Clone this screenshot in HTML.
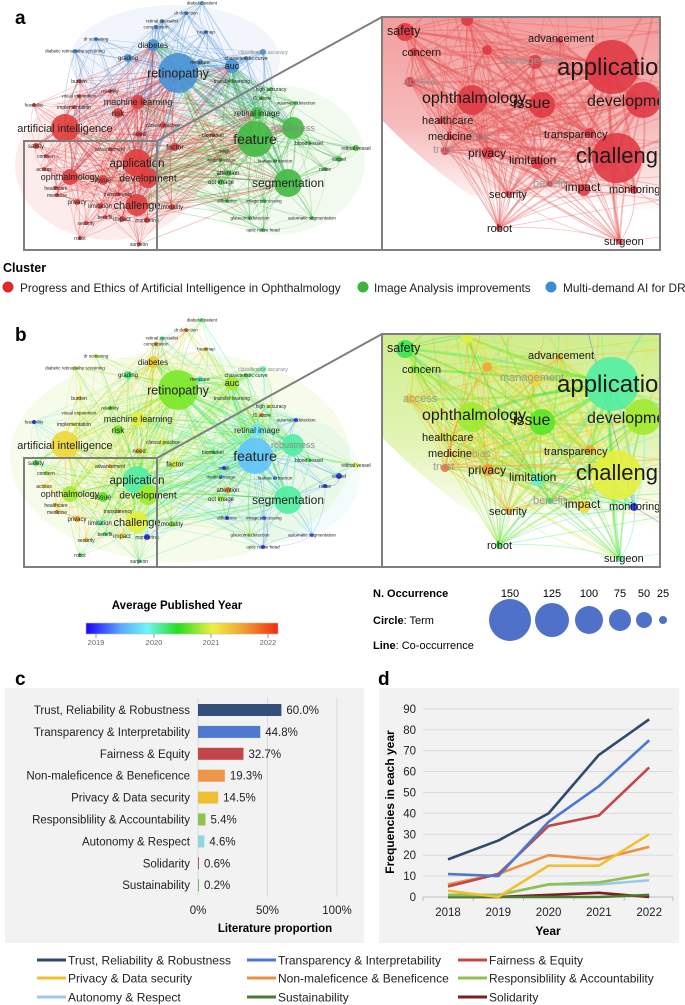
<!DOCTYPE html>
<html><head><meta charset="utf-8">
<style>
html,body{margin:0;padding:0;background:#fff;}
svg{display:block;font-family:"Liberation Sans",Arial,sans-serif;}
</style></head>
<body>
<svg id="fig" width="685" height="1005" viewBox="0 0 685 1005" xmlns="http://www.w3.org/2000/svg">
<defs>
  <clipPath id="clipA"><rect x="382" y="17" width="278" height="233"/></clipPath>
  <clipPath id="clipB"><rect x="382" y="334" width="278" height="233"/></clipPath>
  <linearGradient id="yearGrad" x1="0" x2="1" y1="0" y2="0">
    <stop offset="0" stop-color="#1a00ff"/>
    <stop offset="0.18" stop-color="#5aa8ff"/>
    <stop offset="0.32" stop-color="#6ff6f6"/>
    <stop offset="0.48" stop-color="#22e01a"/>
    <stop offset="0.66" stop-color="#f0f040"/>
    <stop offset="0.82" stop-color="#f0a030"/>
    <stop offset="1" stop-color="#f42a10"/>
  </linearGradient>
  <linearGradient id="bgA" x1="0" x2="0" y1="0" y2="1">
    <stop offset="0" stop-color="#f08c8c"/>
    <stop offset="0.55" stop-color="#f5b0b0"/>
    <stop offset="1" stop-color="#ffffff"/>
  </linearGradient>
  <linearGradient id="bgB" x1="0" x2="0" y1="0" y2="1">
    <stop offset="0" stop-color="#c6ea7a"/>
    <stop offset="0.55" stop-color="#def2a8"/>
    <stop offset="1" stop-color="#ffffff"/>
  </linearGradient>
</defs>
<text x="15" y="24" font-size="19" font-weight="bold">a</text>
<text x="15" y="341" font-size="19" font-weight="bold">b</text>
<text x="15" y="685" font-size="19" font-weight="bold">c</text>
<text x="378" y="685" font-size="19" font-weight="bold">d</text>

<g id="netA"></g>
<g id="netB"></g>

<g>
  <text x="3" y="272" font-size="12.5" font-weight="bold">Cluster</text>
  <circle cx="8" cy="287" r="5.5" fill="#e02a2a"/>
  <text x="20" y="292" font-size="11.8" fill="#222">Progress and Ethics of Artificial Intelligence in Ophthalmology</text>
  <circle cx="363" cy="287" r="5.5" fill="#3cb43c"/>
  <text x="374" y="292" font-size="11.8" fill="#222">Image Analysis improvements</text>
  <circle cx="551" cy="287" r="5.5" fill="#3c8cd2"/>
  <text x="563" y="292" font-size="11.8" fill="#222">Multi-demand AI for DR</text>
</g>

<g>
  <text x="177" y="609" font-size="11.5" font-weight="bold" text-anchor="middle">Average Published Year</text>
  <rect x="86" y="623" width="192" height="11" fill="url(#yearGrad)" stroke="#bbb" stroke-width="0.6"/>
  <g font-size="7.5" fill="#666" text-anchor="middle">
    <line x1="96" y1="634" x2="96" y2="638" stroke="#999"/><text x="96" y="645">2019</text>
    <line x1="154" y1="634" x2="154" y2="638" stroke="#999"/><text x="154" y="645">2020</text>
    <line x1="211" y1="634" x2="211" y2="638" stroke="#999"/><text x="211" y="645">2021</text>
    <line x1="268" y1="634" x2="268" y2="638" stroke="#999"/><text x="268" y="645">2022</text>
  </g>
</g>

<g>
  <text x="373" y="597" font-size="11" font-weight="bold">N. Occurrence</text>
  <text x="373" y="624" font-size="11"><tspan font-weight="bold">Circle</tspan>: Term</text>
  <text x="373" y="649" font-size="11"><tspan font-weight="bold">Line</tspan>:  Co-occurrence</text>
  <g id="sizeCircles"></g>
</g>

<rect x="5" y="688" width="359" height="255" fill="#f2f2f2"/>
<g id="chartC"></g>

<rect x="379" y="688" width="300" height="255" fill="#f2f2f2"/>
<g id="chartD"></g>

<g id="legendD"></g>
</svg>

<script>
// ---------- Panel c data ----------
const barCategories = ["Trust, Reliability & Robustness","Transparency & Interpretability","Fairness & Equity","Non-maleficence & Beneficence","Privacy & Data security","Responsiblility & Accountability","Autonomy & Respect","Solidarity","Sustainability"];
const barValues = [60.0, 44.8, 32.7, 19.3, 14.5, 5.4, 4.6, 0.6, 0.2];
const barColors = ["#34507a","#4f79cf","#c0464a","#ee9547","#edc033","#8fc150","#8fd6df","#a05f6a","#7bb070"];
const barTicks = ["0%","50%","100%"];
const barTickValues = [0, 50, 100];

// ---------- Panel d data ----------
const years = [2018, 2019, 2020, 2021, 2022];
const yTicks = [0,10,20,30,40,50,60,70,80,90];
const seriesNames = ["Trust, Reliability & Robustness","Transparency & Interpretability","Fairness & Equity","Privacy & Data security","Non-maleficence & Beneficence","Responsiblility & Accountability","Autonomy & Respect","Sustainability","Solidarity"];
const seriesColors = ["#2f4a6e","#4a78d0","#c04848","#f0c030","#ee9040","#90c050","#9dc8ea","#4a7a30","#7a2020"];
const trustVals = [18, 27, 40, 68, 85];
const transpVals = [11, 10, 36, 53, 75];
const fairVals = [5, 11, 34, 39, 62];
const privacyVals = [3, 0, 15, 15, 30];
const nonMalVals = [6, 11, 20, 18, 24];
const respVals = [1, 1, 6, 7, 11];
const autoVals = [1, 1, 6, 6, 8];
const sustVals = [0, 0, 0, 0, 1];
const solVals = [0, 0, 1, 2, 0];
const seriesValues = [trustVals, transpVals, fairVals, privacyVals, nonMalVals, respVals, autoVals, sustVals, solVals];

// ---------- Size legend data ----------
const sizeLabels = ["150","125","100","75","50","25"];
const sizeRadii = [21, 17, 14, 11, 8, 4];

// ---------- Network nodes: [label, x, y, r, cluster, fontSize, year] ----------
const leftNodes = [
["retinopathy",178,73,20,2,12.5,2020.7],["diabetes",153,45,6,2,8,2021.3],["auc",232,66,7,2,9,2020.8],
["grading",128,58,4,2,6,2020.2],["diabetic patient",202,3,2,2,4.5,2020.3],["dr detection",186,13,2,2,4.5,2021.8],
["retinal specialist",162,21,2,2,4.5,2020],["complication",156,27,2,2,4.5,2021.8],["heatmap",206,32,2,2,4.5,2021.5],
["dr screening",96,39,2,2,4.5,2020.8],["diabetic retinopathy screening",75,51,2,2,4.5,2020.8],["classification accuracy",263,52,3,2,5,2020],
["characteristic curve",246,58,2,2,5,2020.5],["measure",200,62,3,2,5,2020],["transfer learning",232,81,2,1,5,2020.8],
["high accuracy",271,89,2,1,5,2021],["f1 score",262,98,2,1,5,2021.8],["automatic detection",296,103,2,1,4.5,2019],
["retinal image",257,113,6,1,8,2019.8],["robustness",293,128,11,1,9,2020.1],["feature",255,139,18,1,14,2019.6],
["blood vessel",309,143,2,1,5,2020.5],["retinal vessel",356,148,3,1,5,2021],["vessel",339,159,3,1,5,2019],
["noise",325,169,2,1,5,2019],["segmentation",288,183,14,1,12,2020.1],["biomarker",213,135,2,0,5,2020.4],
["factor",175,147,4,0,7,2021],["result",224,151,2,1,4.5,2019],["medical image",221,160,2,1,4.5,2019.3],
["feature extraction",275,161,2,1,4.5,2019.3],["attention",228,173,3,1,6,2021.8],["oct image",221,182,3,1,6,2020.8],
["difference",227,201,2,1,4.5,2019],["image processing",264,201,2,1,4.5,2019.2],["glaucoma detection",250,218,2,1,4.5,2020.8],
["automatic segmentation",312,218,2,1,4.5,2019.2],["optic nerve head",263,230,2,1,4.5,2019],["modality",172,207,3,0,6,2020.7],
["burden",79,81,2,0,5,2021.3],["reliability",110,91,2,0,4.5,2020.5],["visual impairment",79,96,2,0,4.5,2021],
["feasibility",34,105,2,0,4.5,2019],["implementation",74,107,2,0,5,2021],["machine learning",138,102,7,0,9,2021],
["risk",118,113,5,0,8,2020.7],["clinical practice",163,125,3,0,5,2021],["need",139,134,3,0,6,2021.5],
["artificial intelligence",65,128,14,0,11,2021.2],["application",137,163,14,0,11.5,2020.1],["development",148,178,10,0,10,2020.8],
["ophthalmology",70,177,8,0,9,2020.8],["issue",103,180,5,0,7,2020.6],["challenge",137,205,11,0,11,2021],
["safety",36,146,3,0,6,2020.3],["concern",46,156,2,0,5,2020.7],["advancement",110,149,2,0,5,2021.5],
["access",44,169,2,0,5,2021.3],["healthcare",56,188,2,0,5,2021.3],["medicine",57,195,2,0,5,2021.6],
["transparency",118,194,2,0,5,2021.5],["privacy",77,202,3,0,6,2021.6],["limitation",100,206,3,0,6,2020],
["benefit",105,217,2,0,5,2020.3],["impact",122,219,3,0,6,2021.2],["monitoring",147,220,3,0,5,2019],
["security",86,223,2,0,5,2021.6],["robot",80,238,2,0,5,2020.3],["surgeon",139,244,2,0,5,2020.2]
];
const zoomNodes = [
["safety",405,32,9,387,35,12.5,2020.3,0],["concern",414,52,4,402,56,11,2020.7,0],["advancement",560,40,3,528,42,11,2021.5,0],
["management",535,62,7,500,64,11,2021.2,1],["application",612,67,27,557,75,24,2020.1,0],["access",410,82,5,403,85,11,2021.3,1],
["ophthalmology",472,100,15,422,103,16,2020.8,0],["issue",542,105,13,513,108,16,2020.6,0],["development",643,100,18,587,106,16,2020.8,0],
["healthcare",440,121,3,422,124,11,2021.3,0],["medicine",450,137,3,428,140,11,2021.6,0],["bias",480,137,3,472,140,10,2021,1],
["trust",445,151,4,433,153,11,2021.8,1],["transparency",590,133,5,544,138,11,2021.5,0],["privacy",488,153,6,468,157,12,2021.6,0],
["limitation",537,163,6,509,164,12,2020,0],["challenge",617,158,25,576,163,22,2021,0],["benefit",550,184,3,533,187,11,2020.3,1],
["impact",584,190,6,565,191,12,2021.2,0],["monitoring",634,190,4,609,193,11,2019,0],["security",508,194,3,489,198,11,2021.6,0],
["robot",499,228,3,487,232,11,2020.3,0],["surgeon",620,242,3,604,245,11,2020.2,0],["top-node",467,20,6,0,0,0,2021,0],
["upper-node",487,50,5,0,0,0,2021.5,0]
];

const NS = "http://www.w3.org/2000/svg";
function mk(tag, attrs, parent){ const e=document.createElementNS(NS,tag); for(const k in attrs) e.setAttribute(k,attrs[k]); if(parent) parent.appendChild(e); return e; }
const clusterCol = ["#e03636","#3cb43c","#3c8cd2"];
const clusterFill = ["#e24040","#45bb45","#4a93d6"];
function hex(c){return [parseInt(c.slice(1,3),16),parseInt(c.slice(3,5),16),parseInt(c.slice(5,7),16)];}
const yStops=[[0,"#1a00ff"],[0.18,"#5aa8ff"],[0.32,"#6ff6f6"],[0.48,"#22e01a"],[0.66,"#f0f040"],[0.82,"#f0a030"],[1,"#f42a10"]];
function yearColor(y){
  let t=(y-2018.83)/(2022.17-2018.83); t=Math.max(0,Math.min(1,t));
  for(let i=0;i<yStops.length-1;i++){ const a=yStops[i],b=yStops[i+1];
    if(t<=b[0]){ const f=(t-a[0])/(b[0]-a[0]); const A=hex(a[1]),B=hex(b[1]);
      return "rgb("+A.map((v,j)=>Math.round(v+(B[j]-v)*f)).join(",")+")"; } }
  return yStops[yStops.length-1][1];
}

function drawNetwork(g, dy, mode){
  const bg = mk("g",{},g);
  if(mode==="cluster"){
    mk("ellipse",{cx:175,cy:60,rx:105,ry:55,fill:"#b8c8ec",opacity:0.18},bg);
    mk("ellipse",{cx:275,cy:160,rx:90,ry:75,fill:"#bfe6b5",opacity:0.2},bg);
    mk("ellipse",{cx:110,cy:165,rx:95,ry:75,fill:"#f4aaaa",opacity:0.22},bg);
  } else {
    mk("ellipse",{cx:180,cy:140+dy,rx:170,ry:105,fill:"#d6efa0",opacity:0.22},bg);
    mk("ellipse",{cx:275,cy:160+dy,rx:85,ry:65,fill:"#bfeee6",opacity:0.2},bg);
  }
  const edges = mk("g",{fill:"none"},g);
  const hubs = leftNodes.filter(n=>n[3]>=6);
  leftNodes.forEach((n,i)=>{
    const targets = [];
    hubs.forEach(h=>{ if(h!==n){ const d=Math.hypot(h[1]-n[1],h[2]-n[2]); if(d<170) targets.push(h);} });
    const near = leftNodes.filter(m=>m!==n).map(m=>[m,Math.hypot(m[1]-n[1],m[2]-n[2])]).sort((a,b)=>a[1]-b[1]).slice(0,4).map(a=>a[0]);
    near.forEach(m=>targets.push(m));
    targets.forEach((m,k)=>{
      const col = mode==="cluster" ? clusterCol[n[4]] : yearColor((n[6]+m[6])/2);
      const mx=(n[1]+m[1])/2+((k%2)?8:-8), my=(n[2]+m[2])/2+dy+((k%3)-1)*6;
      mk("path",{d:`M${n[1]},${n[2]+dy} Q${mx},${my} ${m[1]},${m[2]+dy}`,stroke:col,"stroke-width":0.35+(n[3]+m[3])/40,opacity:0.35},edges);
    });
  });
  const nodesG = mk("g",{},g);
  leftNodes.forEach(n=>{
    const c = mk("circle",{cx:n[1],cy:n[2]+dy,r:n[3],fill: mode==="cluster"?clusterFill[n[4]]:yearColor(n[6]),opacity:0.92},nodesG);
    
    
  });
  const labG = mk("g",{"text-anchor":"middle",fill:"#222"},g);
  leftNodes.forEach(n=>{
    const t = mk("text",{x:n[1],y:n[2]+dy+n[5]*0.35,"font-size":n[5],fill:(n[0]==="robustness"||n[0]==="classification accuracy")?"#888":"#222"},labG);
    t.textContent = n[0];
    
    
  });
  const bx=mk("g",{fill:"none",stroke:"#7f7f7f","stroke-width":2},g);
  const sb = mk("rect",{x:24,y:141+dy,width:133,height:109},bx);
  
  
  mk("line",{x1:157,y1:141+dy,x2:382,y2:17+dy},bx);
  mk("line",{x1:157,y1:250+dy,x2:382,y2:250+dy},bx);

  const zg = mk("g",{"clip-path": dy? "url(#clipB)":"url(#clipA)"},g);
  mk("rect",{x:382,y:17+dy,width:278,height:233,fill:"#fff"},zg);
  mk("path",{d:`M382,${17+dy} H660 V${215+dy} Q560,${190+dy} 470,${195+dy} Q420,${160+dy} 382,${120+dy} Z`,fill: mode==="cluster"?"url(#bgA)":"url(#bgB)",opacity:0.85},zg);
  const ze = mk("g",{fill:"none"},zg);
  zoomNodes.forEach((a,i)=>{
    zoomNodes.forEach((b,j)=>{
      if(j<=i) return;
      const d=Math.hypot(a[1]-b[1],a[2]-b[2]);
      if(d>230) return;
      const col = mode==="cluster" ? "#e65a5a" : yearColor((a[7]+b[7])/2);
      const mx=(a[1]+b[1])/2+((i+j)%2?10:-10), my=(a[2]+b[2])/2+((i*j)%3-1)*10+dy;
      mk("path",{d:`M${a[1]},${a[2]+dy} Q${mx},${my} ${b[1]},${b[2]+dy}`,stroke:col,"stroke-width":0.4+(a[3]+b[3])/16,opacity:0.4},ze);
    });
    const col2 = mode==="cluster" ? "#e65a5a" : yearColor(a[7]);
    mk("line",{x1:a[1],y1:a[2]+dy,x2:700,y2:a[2]+dy-60+(i%5)*25,stroke:col2,"stroke-width":0.6+a[3]/15,opacity:0.35},ze);
    mk("line",{x1:a[1],y1:a[2]+dy,x2:a[1]+40-(i%4)*30,y2:dy,stroke:col2,"stroke-width":0.6+a[3]/15,opacity:0.35},ze);
  });
  const zn = mk("g",{},zg);
  zoomNodes.forEach(a=>{
    const c = mk("circle",{cx:a[1],cy:a[2]+dy,r:a[3],fill: mode==="cluster"?"#e03a45":yearColor(a[7]),opacity:0.9},zn);
    
    
  });
  const zl = mk("g",{},zg);
  zoomNodes.forEach(a=>{
    if(!a[6]) return;
    const t = mk("text",{x:a[4],y:a[5]+dy,"font-size":a[6],fill:a[8]?"#999":"#1a1a1a"},zl);
    t.textContent = a[0];
    
    
  });
  const zb = mk("rect",{x:382,y:17+dy,width:278,height:233,fill:"none",stroke:"#7f7f7f","stroke-width":2},g);
  
  
}
drawNetwork(document.getElementById("netA"), 0, "cluster");
drawNetwork(document.getElementById("netB"), 317, "year");

(function(){
  const g=document.getElementById("sizeCircles");
  const xs=[510,552,589,620,644,663];
  sizeLabels.forEach((l,i)=>{
    const c=mk("circle",{cx:xs[i],cy:620,r:sizeRadii[i],fill:"#4f72c8"},g);
    
    
    const t=mk("text",{x:xs[i],y:597,"font-size":11,"text-anchor":"middle"},g);
    t.textContent=l;
    
    
  });
})();

(function(){
  const g=document.getElementById("chartC");
  const x0=198, x100=337, rowY0=710, rowStep=21.9, bh=12;
  const xs=v=>x0+(x100-x0)*v/100;
  barTickValues.forEach((v,i)=>{
    mk("line",{x1:xs(v),y1:698,x2:xs(v),y2:897,stroke:"#d9d9d9","stroke-width":1},g);
    const t=mk("text",{x:xs(v),y:914,"font-size":11.5,"text-anchor":"middle",fill:"#222"},g);
    t.textContent=barTicks[i];
    
    
  });
  barCategories.forEach((c,i)=>{
    const cy=rowY0+i*rowStep;
    const t=mk("text",{x:190,y:cy+4,"font-size":11.5,"text-anchor":"end",fill:"#222"},g);
    t.textContent=c;
    
    
    const w=Math.max(1,xs(barValues[i])-x0);
    const r=mk("rect",{x:x0,y:cy-bh/2,width:w,height:bh,fill:barColors[i]},g);
    
    
    const v=mk("text",{x:x0+w+5,y:cy+4,"font-size":11.5,fill:"#222"},g);
    v.textContent=barValues[i].toFixed(1)+"%";
    
    
  });
  const xt=mk("text",{x:275,y:932,"font-size":11.5,"font-weight":"bold","text-anchor":"middle"},g);
  xt.textContent="Literature proportion";
  
  
})();

(function(){
  const g=document.getElementById("chartD");
  const xL=423, xR=673, x2018=448, step=50.3, y0=897, per=20.9/10;
  const xs=i=>x2018+i*step;
  const ys=v=>y0-v*per;
  yTicks.forEach(v=>{
    mk("line",{x1:xL,y1:ys(v),x2:xR,y2:ys(v),stroke:"#d9d9d9","stroke-width":1},g);
    const t=mk("text",{x:416,y:ys(v)+4,"font-size":11.5,"text-anchor":"end",fill:"#222"},g);
    t.textContent=v;
    
    
  });
  mk("line",{x1:xL,y1:y0,x2:xR,y2:y0,stroke:"#bfbfbf","stroke-width":1},g);
  years.forEach((yr,i)=>{
    mk("line",{x1:xs(i)-25,y1:y0,x2:xs(i)-25,y2:y0+4,stroke:"#bfbfbf"},g);
    const t=mk("text",{x:xs(i),y:916,"font-size":11.5,"text-anchor":"middle",fill:"#222"},g);
    t.textContent=yr;
    
    
  });
  mk("line",{x1:xR,y1:y0,x2:xR,y2:y0+4,stroke:"#bfbfbf"},g);
  const xt=mk("text",{x:548,y:935,"font-size":12,"font-weight":"bold","text-anchor":"middle"},g);
  xt.textContent="Year";
  
  
  const yt=mk("text",{x:0,y:0,"font-size":12,"font-weight":"bold","text-anchor":"middle",transform:"translate(394,802) rotate(-90)"},g);
  yt.textContent="Frequencies in each year";
  
  
  for(let s=seriesValues.length-1;s>=0;s--){
    const p=seriesValues[s].map((v,i)=>(i?"L":"M")+xs(i)+","+ys(v)).join(" ");
    const path=mk("path",{d:p,fill:"none",stroke:seriesColors[s],"stroke-width":2.6,"stroke-linejoin":"round"},g);
    
    
  }
})();

(function(){
  const g=document.getElementById("legendD");
  const colX=[37,247,458], rowY=[960,978,997];
  seriesNames.forEach((n,i)=>{
    const cx=colX[i%3], cy=rowY[Math.floor(i/3)];
    mk("line",{x1:cx,y1:cy,x2:cx+29,y2:cy,stroke:seriesColors[i],"stroke-width":3},g);
    const t=mk("text",{x:cx+31,y:cy+4.5,"font-size":12,fill:"#222"},g);
    t.textContent=n;
    
    
  });
})();
</script>
</body></html>
